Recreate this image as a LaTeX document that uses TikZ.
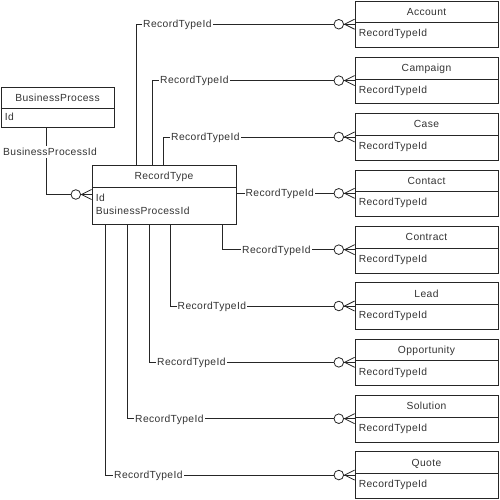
\documentclass[tikz,border=0pt]{standalone}
\usepackage{fontspec}
\setmainfont{Liberation Sans}[LetterSpace=3.7]
\newcommand\mkentity[4]{%
  \node[ebox] (#1) at (426.5,#2) {};
  \draw[line] ([yshift=-22pt]#1.north west) -- ([yshift=-22pt]#1.north east);
  \node[txt, anchor=base] (#1t) at ([yshift=-14.7pt]#1.north) {#3};
  \node[txt, anchor=base west] (#1b) at ([xshift=4pt,yshift=-36.3pt]#1.north west) {#4};
}
\begin{document}
\begin{tikzpicture}[x=1pt,y=-1pt,
  line/.style={draw=black!85, line width=0.8pt},
  ebox/.style={line, fill=white, minimum width=143pt, minimum height=46.5pt, inner sep=0pt},
  txt/.style={font=\fontsize{10.3}{14}\selectfont, text=black!80, inner sep=0pt},
  lbl/.style={txt, fill=white, inner xsep=1pt, inner ysep=2pt, anchor=base west, yshift=-3.4pt},
  conn/.style={line},
  zm/.pic={\draw[line] (-10,0) -- (0,0);
           \draw[line, fill=white] (-15.8,0) circle (4.8pt);
           \draw[line] (0,-5) -- (-10,0) -- (0,5);}
]
\useasboundingbox (0,0) rectangle (500,500);

% BusinessProcess
\node[line, minimum width=113pt, minimum height=40pt, inner sep=0pt] (bp) at (57.5,107) {};
\draw[line] ([yshift=-22pt]bp.north west) -- ([yshift=-22pt]bp.north east);
\node[txt, anchor=base] (bpt) at ([yshift=-14.7pt]bp.north) {BusinessProcess};
\node[txt, anchor=base west] (bpb) at ([xshift=4pt,yshift=-33.7pt]bp.north west) {Id};

% RecordType
\node[line, minimum width=144pt, minimum height=59pt, inner sep=0pt] (rt) at (164,194.5) {};
\draw[line] ([yshift=-23pt]rt.north west) -- ([yshift=-23pt]rt.north east);
\node[txt, anchor=base] (rtt) at ([yshift=-15pt]rt.north) {RecordType};
\node[txt, anchor=base west] (rtb1) at ([xshift=4pt,yshift=-36.7pt]rt.north west) {Id};
\node[txt, anchor=base west] (rtb2) at ([xshift=4pt,yshift=-50pt]rt.north west) {BusinessProcessId};

% entities
\mkentity{acc}{24.25}{Account}{RecordTypeId}
\mkentity{cam}{80.6}{Campaign}{RecordTypeId}
\mkentity{cas}{136.95}{Case}{RecordTypeId}
\mkentity{con}{193.3}{Contact}{RecordTypeId}
\mkentity{ctr}{249.65}{Contract}{RecordTypeId}
\mkentity{lea}{306}{Lead}{RecordTypeId}
\mkentity{opp}{362.35}{Opportunity}{RecordTypeId}
\mkentity{sol}{418.7}{Solution}{RecordTypeId}
\mkentity{quo}{475.05}{Quote}{RecordTypeId}

% x positions of the vertical runs
\coordinate (xA) at (136,0);
\coordinate (xB) at (152,0);
\coordinate (xC) at (163,0);
\coordinate (xT) at (222,0);
\coordinate (xL) at (170.5,0);
\coordinate (xO) at (149,0);
\coordinate (xS) at (127,0);
\coordinate (xQ) at (105.5,0);
\coordinate (xP) at (46,0);

% BusinessProcess -> RecordType
\draw[conn] (bp.south -| xP) |- (rt.west);
\node[lbl, anchor=center, yshift=3.4pt] (lbp) at (50,152) {BusinessProcessId};
\pic at (rt.west) {zm};

% RecordType -> entities
\draw[conn] (rt.north -| xA) |- (acc.west);
\node[lbl, xshift=6pt] (lacc) at (xA |- acc.west) {RecordTypeId};
\pic at (acc.west) {zm};

\draw[conn] (rt.north -| xB) |- (cam.west);
\node[lbl, xshift=7pt] (lcam) at (xB |- cam.west) {RecordTypeId};
\pic at (cam.west) {zm};

\draw[conn] (rt.north -| xC) |- (cas.west);
\node[lbl, xshift=7pt] (lcas) at (xC |- cas.west) {RecordTypeId};
\pic at (cas.west) {zm};

\draw[conn] (rt.east |- con.west) -- (con.west);
\node[lbl, xshift=8pt] (lcon) at (rt.east |- con.west) {RecordTypeId};
\pic at (con.west) {zm};

\draw[conn] (rt.south -| xT) |- (ctr.west);
\node[lbl, xshift=19pt] (lctr) at (xT |- ctr.west) {RecordTypeId};
\pic at (ctr.west) {zm};

\draw[conn] (rt.south -| xL) |- (lea.west);
\node[lbl, xshift=6pt] (llea) at (xL |- lea.west) {RecordTypeId};
\pic at (lea.west) {zm};

\draw[conn] (rt.south -| xO) |- (opp.west);
\node[lbl, xshift=7pt] (lopp) at (xO |- opp.west) {RecordTypeId};
\pic at (opp.west) {zm};

\draw[conn] (rt.south -| xS) |- (sol.west);
\node[lbl, xshift=7pt] (lsol) at (xS |- sol.west) {RecordTypeId};
\pic at (sol.west) {zm};

\draw[conn] (rt.south -| xQ) |- (quo.west);
\node[lbl, xshift=7.5pt] (lquo) at (xQ |- quo.west) {RecordTypeId};
\pic at (quo.west) {zm};
\end{tikzpicture}
\end{document}
